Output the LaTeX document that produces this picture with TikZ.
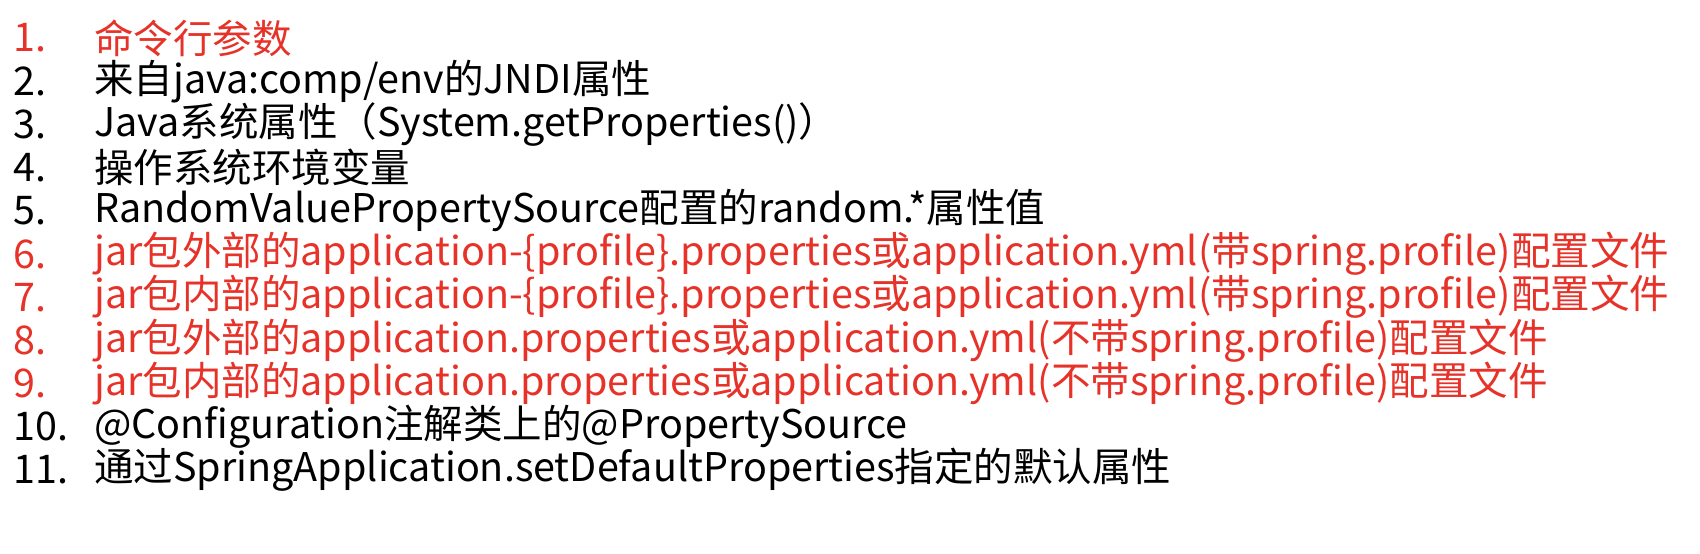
\documentclass[tikz,border=0pt]{standalone}
\usepackage{fontspec}
\setmainfont{Noto Sans CJK SC}
\definecolor{myred}{RGB}{230,50,40}
\begin{document}
\begin{tikzpicture}[x=1pt,y=-1pt,
  num/.style={anchor=west,inner sep=0pt,font=\fontsize{39.5}{41}\selectfont},
  txt/.style={anchor=west,inner sep=0pt,font=\fontsize{39.5}{41}\selectfont}]
\useasboundingbox (0,0) rectangle (1700,554);
\foreach \i/\c/\t in {
1/myred/{命令行参数},
2/black/{来自java:comp/env的JNDI属性},
3/black/{Java系统属性（System.getProperties()）},
4/black/{操作系统环境变量},
5/black/{RandomValuePropertySource配置的random.*属性值},
6/myred/{jar包外部的application-\{profile\}.properties或application.yml(带spring.profile)配置文件},
7/myred/{jar包内部的application-\{profile\}.properties或application.yml(带spring.profile)配置文件},
8/myred/{jar包外部的application.properties或application.yml(不带spring.profile)配置文件},
9/myred/{jar包内部的application.properties或application.yml(不带spring.profile)配置文件},
10/black/{@Configuration注解类上的@PropertySource},
11/black/{通过SpringApplication.setDefaultProperties指定的默认属性}}{
  \node[num,text=\c] (n\i) at (13,{38+(\i-1)*43.2}) {\i.};
  \node[txt,text=\c] (t\i) at (94,{38+(\i-1)*43.2}) {\t};
}
\end{tikzpicture}
\end{document}
